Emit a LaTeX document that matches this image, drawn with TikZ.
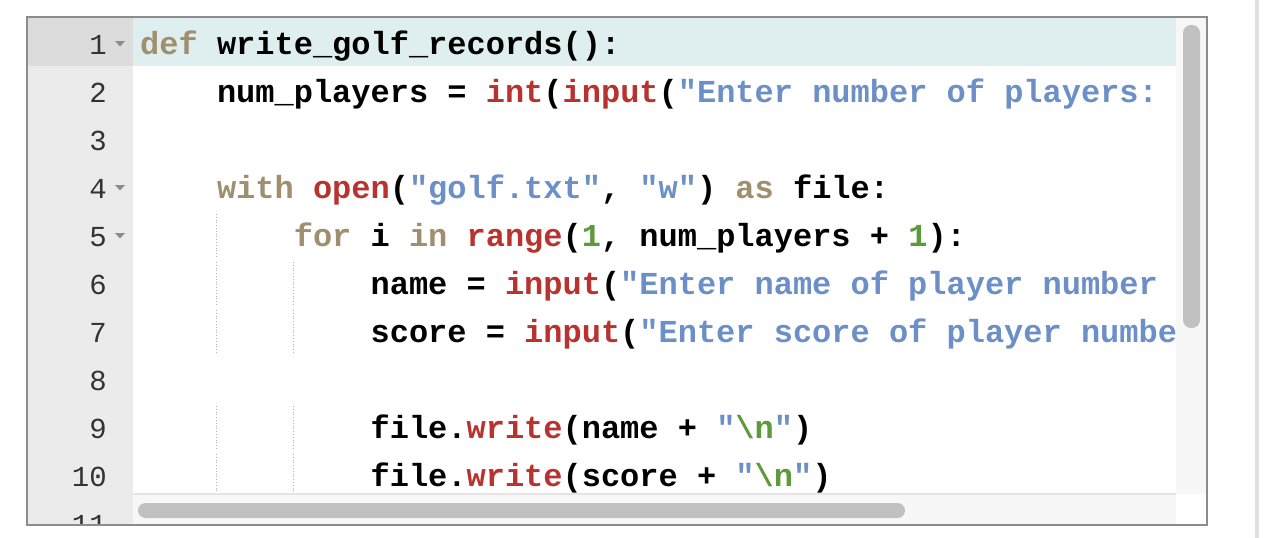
\documentclass[tikz,border=0pt]{standalone}
\usepackage{fontspec}
\setmonofont{Liberation Mono}
\definecolor{kwc}{HTML}{A08F6F}
\definecolor{bic}{HTML}{B8322F}
\definecolor{stc}{HTML}{6C8FC7}
\definecolor{nmc}{HTML}{5C9A3C}
\definecolor{gut}{HTML}{EBEBEB}
\definecolor{gutact}{HTML}{DCDCDC}
\definecolor{actl}{HTML}{DFEEEE}
\definecolor{thumb}{HTML}{C1C1C1}
\newcommand{\kw}[1]{\textcolor{kwc}{#1}}
\newcommand{\bi}[1]{\textcolor{bic}{#1}}
\newcommand{\st}[1]{\textcolor{stc}{#1}}
\newcommand{\nm}[1]{\textcolor{nmc}{#1}}
\tikzset{
  code/.style={anchor=base west, inner sep=0pt, font=\fontsize{32}{32}\ttfamily\bfseries, text=black},
  lnum/.style={anchor=base east, inner sep=0pt, font=\fontsize{29}{29}\ttfamily, text=black!80},
  guide/.style={draw=black!30, dotted, line width=0.8pt},
  fold/.style={fill=black!45, draw=none}
}
\begin{document}
\begin{tikzpicture}[x=1pt,y=-1pt]
\useasboundingbox (0,0) rectangle (1272,538);
\fill[white] (0,0) rectangle (1272,538);
\fill[black!12] (1255,0) rectangle (1259,538);
% gutter
\fill[gut] (28,18) rectangle (133,524);
\fill[gutact] (28,18) rectangle (133,66);
\fill[actl] (133,18) rectangle (1176,66);
% line numbers
\begin{scope}
\clip (28,18) rectangle (133,524);
\foreach \n [evaluate=\n as \yy using 44+48*(\n-1)+10] in {1,...,11}
  \node[lnum] (ln\n) at (107,\yy) {\n};
\end{scope}
\foreach \yy in {44,188,236}
  \fill[fold] (115,\yy-3) -- (125,\yy-3) -- (120,\yy+2.5) -- cycle;
% indent guides
\foreach \yy in {236,284,332,428,476}
  \draw[guide] (216,\yy-22) -- (216,\yy+22);
\foreach \yy in {284,332,428,476}
  \draw[guide] (293,\yy-22) -- (293,\yy+22);
% code
\begin{scope}
\clip (133,18) rectangle (1176,494);
\def\c{19.2}
\node[code] (l1) at (140,54) {\kw{def} write\_golf\_records():};
\node[code] (l2) at (140+4*\c,102) {num\_players = \bi{int}(\bi{input}(\st{"Enter number of players: ")))}};
\node[code] (l4) at (140+4*\c,198) {\kw{with} \bi{open}(\st{"golf.txt"}, \st{"w"}) \kw{as} file:};
\node[code] (l5) at (140+8*\c,246) {\kw{for} i \kw{in} \bi{range}(\nm{1}, num\_players + \nm{1}):};
\node[code] (l6) at (140+12*\c,294) {name = \bi{input}(\st{"Enter name of player number " + str(i)})};
\node[code] (l7) at (140+12*\c,342) {score = \bi{input}(\st{"Enter score of player number " + str(i)})};
\node[code] (l9) at (140+12*\c,438) {file.\bi{write}(name + \st{"}\nm{\textbackslash n}\st{"})};
\node[code] (l10) at (140+12*\c,486) {file.\bi{write}(score + \st{"}\nm{\textbackslash n}\st{"})};
\end{scope}
% scrollbars
\fill[black!3] (133,494) rectangle (1176,524);
\draw[black!10, line width=1.5pt] (133,494) -- (1176,494);
\fill[thumb, rounded corners=7.5pt] (138,503) rectangle (905,518);
\fill[black!3] (1176,18) rectangle (1206,494);
\fill[thumb, rounded corners=8pt] (1183,25) rectangle (1200,328);
% frame
\draw[black!45, line width=2pt] (27,17) rectangle (1207,525);
\end{tikzpicture}
\end{document}
